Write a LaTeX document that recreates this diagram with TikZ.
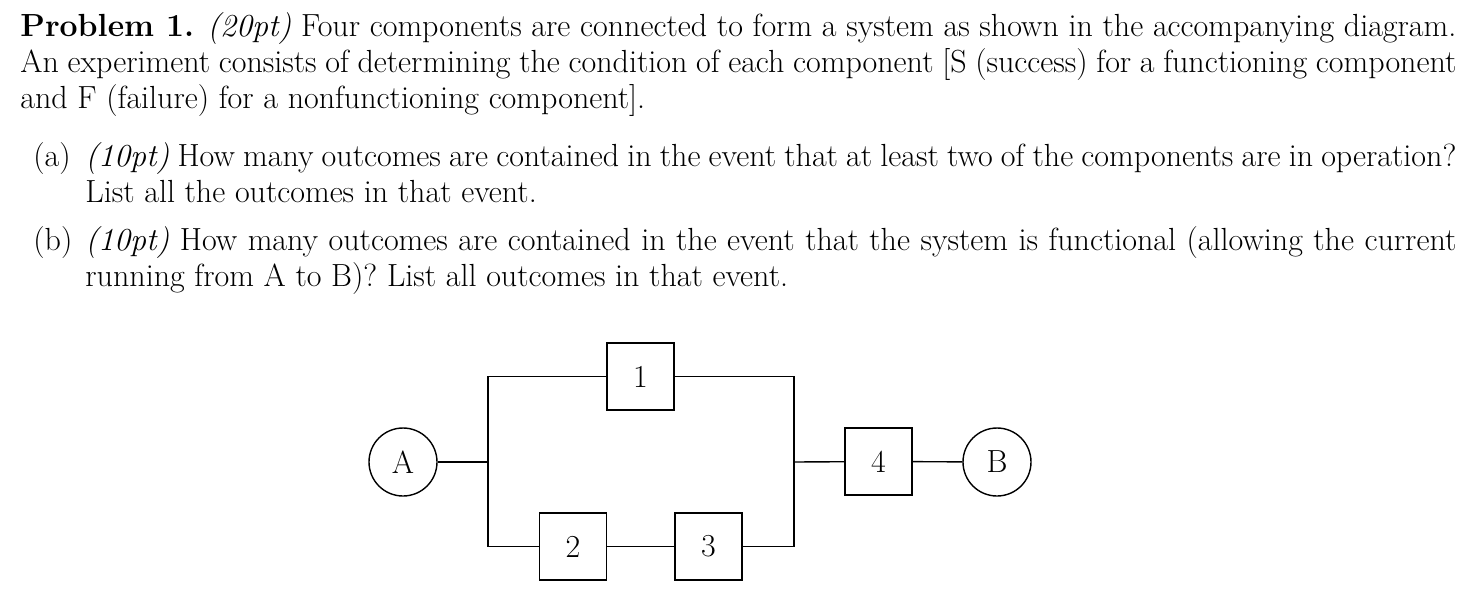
\documentclass[tikz,border=0pt]{standalone}
\begin{document}
\begin{tikzpicture}[x=0.5pt,y=-0.5pt,
  txt/.style={anchor=base west,inner sep=0pt,font=\fontsize{16}{18}\selectfont},
  comp/.style={draw,line width=0.7pt,minimum size=33.5pt,inner sep=0pt,font=\fontsize{16}{18}\selectfont},
  term/.style={draw,circle,line width=0.7pt,minimum size=34pt,inner sep=0pt,font=\fontsize{16}{18}\selectfont},
  wire/.style={line width=0.7pt}]
\useasboundingbox (0,0) rectangle (1478,612);
\node[txt] (l1) at (20,36) {\makebox[718pt][s]{\textbf{Problem 1.} \textit{(20pt)} Four components are connected to form a system as shown in the accompanying diagram.}};
\node[txt] (l2) at (20,72) {\makebox[718pt][s]{An experiment consists of determining the condition of each component [S (success) for a functioning component}};
\node[txt] (l3) at (20,108) {and F (failure) for a nonfunctioning component].};
\node[txt] (la) at (33,166) {(a)};
\node[txt] (la1) at (85,166) {\makebox[685.5pt][s]{\textit{(10pt)} How many outcomes are contained in the event that at least two of the components are in operation?}};
\node[txt] (la2) at (85,202) {List all the outcomes in that event.};
\node[txt] (lb) at (33,250) {(b)};
\node[txt] (lb1) at (85,250) {\makebox[685.5pt][s]{\textit{(10pt)} How many outcomes are contained in the event that the system is functional (allowing the current}};
\node[txt] (lb2) at (85,286) {running from A to B)? List all outcomes in that event.};
\node[term] (A) at (403,462) {A};
\node[term] (B) at (997,462) {B};
\node[comp] (c1) at (640.5,376.5) {1};
\node[comp] (c2) at (573,546.5) {2};
\node[comp] (c3) at (708.5,546.5) {3};
\node[comp] (c4) at (878.5,461.5) {4};
\coordinate (jl) at (488,462);
\coordinate (jr) at (794,462);
\draw[wire] (A) -- (jl);
\draw[wire] (c1.west) -| (jl) |- (c2.west);
\draw[wire] (c2) -- (c3);
\draw[wire] (c1.east) -| (jr) |- (c3.east);
\draw[wire] (jr) -- (c4);
\draw[wire] (c4) -- (B);
\end{tikzpicture}
\end{document}
